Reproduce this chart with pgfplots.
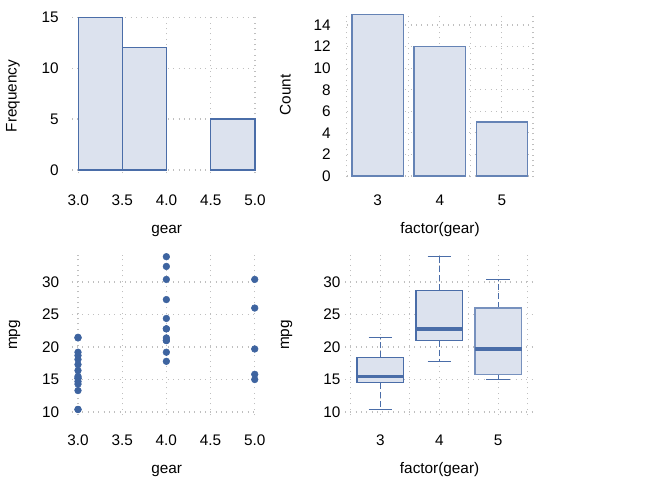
\documentclass[border=0pt]{standalone}
\usepackage{fontspec}
\setmainfont{Liberation Sans}
\usepackage{pgfplots}
\pgfplotsset{compat=1.18}
\definecolor{barfill}{HTML}{DCE2EE}
\definecolor{edge}{HTML}{4A6DA8}
\definecolor{pt}{HTML}{3E64A0}
\newcommand{\fs}{\fontsize{11.5}{13}\selectfont}
\pgfplotsset{
  myaxis/.style={
    scale only axis, anchor=south west,
    axis line style={draw=none},
    major tick length=0pt, minor tick length=0pt,
    grid=both,
    major grid style={color=black!25, line width=0.9pt, dash pattern=on 0.8pt off 3.2pt},
    minor grid style={color=black!25, line width=0.9pt, dash pattern=on 0.8pt off 3.2pt},
    ticklabel style={font=\fs},
    /pgf/number format/assume math mode=true,
    clip=false,
  },
  onedec/.style={xticklabel style={/pgf/number format/fixed, /pgf/number format/fixed zerofill, /pgf/number format/precision=1}},
  boxst/.style={fill=barfill, draw=edge, line width=0.9pt},
  medst/.style={draw=edge, line width=2.6pt},
  whst/.style={draw=edge, line width=0.9pt, dash pattern=on 4.5pt off 2.25pt},
  capst/.style={draw=edge, line width=0.9pt},
}
\begin{document}
\begin{tikzpicture}
\fill[white] (0pt,0pt) rectangle (504pt,-360pt);
\path[use as bounding box] (0pt,0pt) rectangle (504pt,-360pt);

% Top-left histogram
\begin{axis}[myaxis, onedec,
  at={(54pt,-129.75pt)}, width=139.5pt, height=118.5pt,
  xmin=2.93, xmax=5.035, ymin=-0.3, ymax=15.23,
  xtick={3,3.5,4,4.5,5}, ytick={0,5,10,15},
  xticklabel style={anchor=base, inner sep=0pt, yshift=-24pt},
  yticklabel style={anchor=east, inner sep=0pt, xshift=-9.75pt},
]
\addplot[ybar interval, fill=barfill, draw=edge, line width=0.9pt] coordinates {(3,15) (3.5,12) (4,12)};
\addplot[ybar interval, fill=barfill, draw=edge, line width=0.9pt] coordinates {(4.5,5) (5,5)};
\end{axis}

% Top-right bar chart
\begin{axis}[myaxis,
  at={(260pt,-132.75pt)}, width=139.7pt, height=122.25pt,
  xmin=2.5, xmax=5.5, ymin=-0.09, ymax=15.02,
  xtick={3,4,5}, minor xtick={2.5,3.5,4.5,5.5}, ytick={0,2,...,14},
  xticklabel style={anchor=base, inner sep=0pt, yshift=-21pt},
  yticklabel style={anchor=east, inner sep=0pt, xshift=-11.8pt},
]
\addplot[ybar, bar width=0.83, fill=barfill, draw=edge!85, line width=0.9pt] coordinates {(3,15) (4,12) (5,5)};
\end{axis}

% Bottom-left scatter
\begin{axis}[myaxis, onedec,
  at={(53.8pt,-311.25pt)}, width=139.7pt, height=120.2pt,
  xmin=2.929, xmax=5.037, ymin=9.54, ymax=34.2,
  xtick={3,3.5,4,4.5,5}, ytick={10,15,20,25,30},
  xticklabel style={anchor=base, inner sep=0pt, yshift=-22.5pt},
  yticklabel style={anchor=east, inner sep=0pt, xshift=-9.3pt},
]
\addplot[only marks, mark=*, mark size=2.5pt, color=pt] coordinates {
 (3,21.4) (3,18.7) (3,18.1) (3,14.3) (3,16.4) (3,17.3) (3,15.2) (3,10.4)
 (3,10.4) (3,14.7) (3,21.5) (3,15.5) (3,15.2) (3,13.3) (3,19.2)
 (4,21.0) (4,21.0) (4,22.8) (4,24.4) (4,22.8) (4,19.2) (4,17.8) (4,32.4)
 (4,30.4) (4,33.9) (4,27.3) (4,21.4)
 (5,26.0) (5,30.4) (5,15.8) (5,19.7) (5,15.0)
};
\end{axis}

% Bottom-right boxplot
\begin{axis}[myaxis,
  at={(258.75pt,-311.25pt)}, width=141.45pt, height=120.2pt,
  xmin=2.4, xmax=5.6, ymin=9.54, ymax=34.2,
  xtick={3,4,5}, minor xtick={2.5,3.5,4.5,5.5}, ytick={10,15,20,25,30},
  xticklabel style={anchor=base, inner sep=0pt, yshift=-22.5pt},
  yticklabel style={anchor=east, inner sep=0pt, xshift=-3.2pt},
]
% gear 3: whiskers 10.4 / 21.5, box 14.5-18.4, median 15.5
\addplot[whst] coordinates {(3,18.4) (3,21.5)};
\addplot[whst] coordinates {(3,14.5) (3,10.4)};
\addplot[capst] coordinates {(2.8,21.5) (3.2,21.5)};
\addplot[capst] coordinates {(2.8,10.4) (3.2,10.4)};
\addplot[boxst] coordinates {(2.605,14.5) (3.395,14.5) (3.395,18.4) (2.605,18.4)} -- cycle;
\addplot[medst] coordinates {(2.605,15.5) (3.395,15.5)};
% gear 4: whiskers 17.8 / 33.9, box 21.0-28.7, median 22.8
\addplot[whst] coordinates {(4,28.7) (4,33.9)};
\addplot[whst] coordinates {(4,21.0) (4,17.8)};
\addplot[capst] coordinates {(3.8,33.9) (4.2,33.9)};
\addplot[capst] coordinates {(3.8,17.8) (4.2,17.8)};
\addplot[boxst] coordinates {(3.605,21.0) (4.395,21.0) (4.395,28.7) (3.605,28.7)} -- cycle;
\addplot[medst] coordinates {(3.605,22.8) (4.395,22.8)};
% gear 5: whiskers 15.0 / 30.4, box 15.8-26.0, median 19.7
\addplot[whst] coordinates {(5,26.0) (5,30.4)};
\addplot[whst] coordinates {(5,15.8) (5,15.0)};
\addplot[capst] coordinates {(4.8,30.4) (5.2,30.4)};
\addplot[capst] coordinates {(4.8,15.0) (5.2,15.0)};
\addplot[boxst, draw=edge!75] coordinates {(4.605,15.8) (5.395,15.8) (5.395,26.0) (4.605,26.0)} -- cycle;
\addplot[medst] coordinates {(4.605,19.7) (5.395,19.7)};
\end{axis}

% Axis labels
\node[rotate=90, font=\fs] at (9.75pt,-72pt) {Frequency};
\node[anchor=base, font=\fs, inner sep=0pt] at (125pt,-175.1pt) {gear};
\node[rotate=90, font=\fs] at (214.1pt,-71.25pt) {Count};
\node[anchor=base, font=\fs, inner sep=0pt] at (330pt,-175.1pt) {factor(gear)};
\node[rotate=90, font=\fs] at (10.9pt,-251.25pt) {mpg};
\node[anchor=base, font=\fs, inner sep=0pt] at (125pt,-355.1pt) {gear};
\node[rotate=90, font=\fs] at (215pt,-251.25pt) {mpg};
\node[anchor=base, font=\fs, inner sep=0pt] at (329.7pt,-355.1pt) {factor(gear)};
\end{tikzpicture}
\end{document}
